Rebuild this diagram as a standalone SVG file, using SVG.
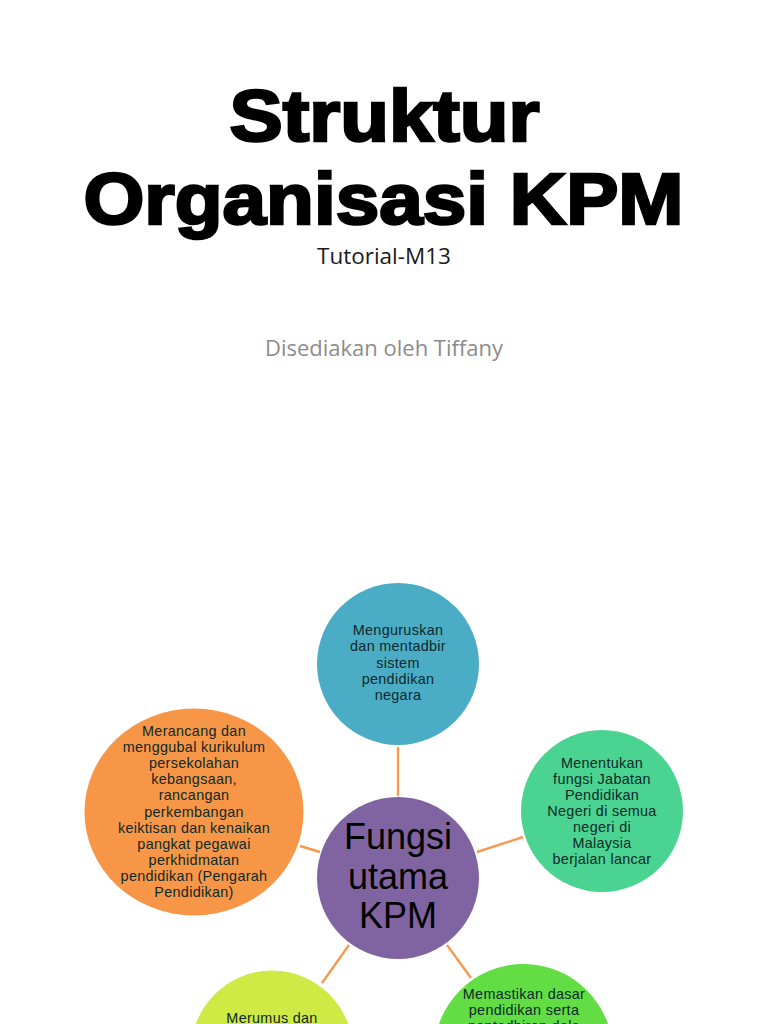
<svg xmlns="http://www.w3.org/2000/svg" width="768" height="1024" viewBox="0 0 768 1024">
<style>
.t{font-family:"Liberation Sans",Arial,sans-serif;font-weight:700;font-size:72px;fill:#000;stroke:#000;stroke-width:2.6px;text-anchor:middle}
.s{font-family:"Open Sans","Noto Sans",sans-serif;text-anchor:middle}
.n{font-family:"Liberation Sans",Arial,sans-serif;font-size:14.4px;fill:#0c2a2a;text-anchor:middle;letter-spacing:.3px}
.c{font-family:"Liberation Sans",Arial,sans-serif;font-size:36px;fill:#000;text-anchor:middle}
.l{stroke:#f59a4f;stroke-width:2.4;fill:none}
</style>
<rect width="768" height="1024" fill="#fff"/>
<g id="title">
<text class="t" x="384.500" y="141" textLength="310" lengthAdjust="spacingAndGlyphs">Struktur</text>
<text class="t" x="383.500" y="224" textLength="600" lengthAdjust="spacingAndGlyphs">Organisasi KPM</text>
<text class="s" x="384" y="264" font-size="22" fill="#1a1a1a" textLength="134" lengthAdjust="spacingAndGlyphs">Tutorial-M13</text>
<text class="s" x="384" y="356" font-size="22" fill="#8c8c8c" textLength="238" lengthAdjust="spacingAndGlyphs">Disediakan oleh Tiffany</text>
</g>
<g id="connectors">
<line class="l" x1="398" y1="747" x2="398" y2="796"/>
<line class="l" x1="477" y1="852" x2="523" y2="837"/>
<line class="l" x1="447" y1="945" x2="471" y2="978"/>
<line class="l" x1="349" y1="945" x2="322" y2="983"/>
<line class="l" x1="320" y1="852" x2="300" y2="846"/>
</g>
<g id="node-pusat">
<circle cx="398" cy="878" r="81" fill="#8064a2"/>
<text class="c" x="398" y="849">Fungsi</text>
<text class="c" x="398" y="889">utama</text>
<text class="c" x="398" y="928">KPM</text>
</g>
<g id="node-urus">
<circle cx="398" cy="664" r="81" fill="#4bacc6"/>
<text class="n" x="398" y="635">Menguruskan</text>
<text class="n" x="398" y="651">dan mentadbir</text>
<text class="n" x="398" y="668">sistem</text>
<text class="n" x="398" y="684">pendidikan</text>
<text class="n" x="398" y="700">negara</text>
</g>
<g id="node-jabatan">
<circle cx="602" cy="811" r="81" fill="#4ad391"/>
<text class="n" x="602" y="768">Menentukan</text>
<text class="n" x="602" y="784">fungsi Jabatan</text>
<text class="n" x="602" y="800">Pendidikan</text>
<text class="n" x="602" y="816">Negeri di semua</text>
<text class="n" x="602" y="832">negeri di</text>
<text class="n" x="602" y="848">Malaysia</text>
<text class="n" x="602" y="864">berjalan lancar</text>
</g>
<g id="node-dasar">
<circle cx="523.500" cy="1053.500" r="89.500" fill="#62dd44"/>
<text class="n" x="524" y="999">Memastikan dasar</text>
<text class="n" x="524" y="1015">pendidikan serta</text>
<text class="n" x="524" y="1031">pentadbiran dala</text>
</g>
<g id="node-merumus">
<circle cx="272" cy="1051.500" r="81" fill="#cfe945"/>
<text class="n" x="272" y="1023">Merumus dan</text>
</g>
<g id="node-kurikulum">
<ellipse cx="194" cy="812" rx="109.500" ry="103.500" fill="#f79646"/>
<text class="n" x="194" y="736">Merancang dan</text>
<text class="n" x="194" y="752">menggubal kurikulum</text>
<text class="n" x="194" y="768">persekolahan</text>
<text class="n" x="194" y="784">kebangsaan,</text>
<text class="n" x="194" y="800">rancangan</text>
<text class="n" x="194" y="817">perkembangan</text>
<text class="n" x="194" y="833">keiktisan dan kenaikan</text>
<text class="n" x="194" y="849">pangkat pegawai</text>
<text class="n" x="194" y="865">perkhidmatan</text>
<text class="n" x="194" y="881">pendidikan (Pengarah</text>
<text class="n" x="194" y="897">Pendidikan)</text>
</g>
</svg>
